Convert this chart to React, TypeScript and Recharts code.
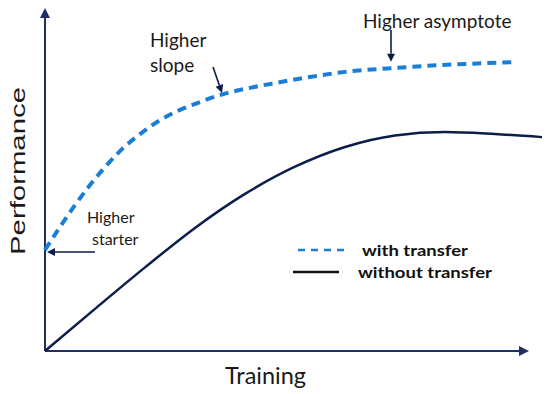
import { LineChart, Line, XAxis, YAxis, ReferenceLine } from "recharts";

// training progress (x) and performance (y), both 0..100
const withTransferX = [0, 3, 6, 9, 12, 15, 19, 23, 27, 31, 35, 41, 46, 53, 60, 69.4, 79.4, 94];
const withTransferY = [29.7, 36.5, 42.9, 48.8, 54.1, 58.8, 63.8, 67.9, 70.9, 73.2, 75.3, 77.4, 78.8, 80.6, 82.1, 83.2, 84.1, 85];
const withoutTransferX = [0, 10, 20, 30, 40, 50, 60, 70, 80, 90, 99.4];
const withoutTransferY = [0, 12.4, 24.6, 36.2, 46.2, 54.2, 60, 63.4, 64.4, 63.8, 62.9];

const withData = withTransferX.map((x, i) => ({ x, y: withTransferY[i] }));
const withoutData = withoutTransferX.map((x, i) => ({ x, y: withoutTransferY[i] }));

const AXIS = "#1f2f66";
const NAVY = "#0c1d4b";
const BLUE = "#1b7ed6";
const ANNOT = "Lato, 'Noto Sans', sans-serif";

// line with an arrowhead at the (x2, y2) end
const Arrow = (props: any) => {
  const { x1, y1, x2, y2, stroke, strokeWidth, head = 9, wing = 4.5 } = props;
  const a = Math.atan2(y2 - y1, x2 - x1);
  const bx = x2 - head * Math.cos(a);
  const by = y2 - head * Math.sin(a);
  const s = Math.sin(a);
  const c = Math.cos(a);
  const pts = `${x2},${y2} ${bx + wing * s},${by - wing * c} ${bx - wing * s},${by + wing * c}`;
  return (
    <g>
      <line x1={x1} y1={y1} x2={bx} y2={by} stroke={stroke} strokeWidth={strokeWidth} />
      <polygon points={pts} fill={stroke} />
    </g>
  );
};

export default function App() {
  return (
    <div style={{ position: "absolute", left: 0, top: 0, width: 550, height: 394 }}>
      <LineChart
        width={550}
        height={394}
        margin={{ top: 11, right: 5, bottom: 43, left: 45 }}
      >
        <XAxis type="number" dataKey="x" domain={[0, 100]} hide />
        <YAxis type="number" dataKey="y" domain={[0, 100]} hide />

        {/* axes with arrowheads */}
        <ReferenceLine
          segment={[{ x: 0, y: 0 }, { x: 96.8, y: 0 }]}
          stroke={AXIS}
          strokeWidth={2}
          ifOverflow="visible"
          shape={(p: any) => <Arrow {...p} head={10} wing={5} />}
        />
        <ReferenceLine
          segment={[{ x: 0, y: 0 }, { x: 0, y: 100.9 }]}
          stroke={AXIS}
          strokeWidth={2}
          ifOverflow="visible"
          shape={(p: any) => <Arrow {...p} head={10} wing={5} />}
        />

        <Line
          data={withoutData}
          dataKey="y"
          type="monotone"
          stroke={NAVY}
          strokeWidth={2.5}
          dot={false}
          isAnimationActive={false}
        />
        <Line
          data={withData}
          dataKey="y"
          type="monotone"
          stroke={BLUE}
          strokeWidth={4}
          strokeDasharray="9 6"
          dot={false}
          isAnimationActive={false}
        />

        {/* annotation arrows */}
        <ReferenceLine
          segment={[{ x: 33.6, y: 83.5 }, { x: 35.4, y: 75.9 }]}
          stroke={NAVY}
          strokeWidth={1.6}
          ifOverflow="visible"
          shape={(p: any) => <Arrow {...p} head={8} wing={4} />}
        />
        <ReferenceLine
          segment={[{ x: 69.2, y: 94.4 }, { x: 69.2, y: 85.1 }]}
          stroke={NAVY}
          strokeWidth={1.6}
          ifOverflow="visible"
          shape={(p: any) => <Arrow {...p} head={8} wing={4} />}
        />
        <ReferenceLine
          segment={[{ x: 10, y: 29.1 }, { x: 0.4, y: 29.1 }]}
          stroke={NAVY}
          strokeWidth={1.6}
          ifOverflow="visible"
          shape={(p: any) => <Arrow {...p} head={8} wing={4} />}
        />
      </LineChart>

      <svg
        width={550}
        height={394}
        style={{ position: "absolute", left: 0, top: 0, pointerEvents: "none" }}
      >
        <g fontFamily={ANNOT} fontSize={19} fill="#1a1a1a">
          <text x={150} y={47}>Higher</text>
          <text x={150} y={72}>slope</text>
          <text x={363} y={28}>Higher asymptote</text>
        </g>
        <g fontFamily={ANNOT} fontSize={16} fill="#1a1a1a">
          <text x={87} y={223}>Higher</text>
          <text x={92} y={245}>starter</text>
        </g>

        {/* legend */}
        <line x1={298} y1={250} x2={346} y2={250} stroke={BLUE} strokeWidth={2.5} strokeDasharray="7 6" />
        <line x1={293} y1={272} x2={339} y2={272} stroke="#111" strokeWidth={2.5} />
        <g fontFamily={ANNOT} fontSize={16} fontWeight={700} fill="#111">
          <text x={362} y={256} textLength={106} lengthAdjust="spacingAndGlyphs">with transfer</text>
          <text x={358} y={278} textLength={134} lengthAdjust="spacingAndGlyphs">without transfer</text>
        </g>

        <text x={225} y={384} fontFamily={ANNOT} fontSize={23.5} fill="#1a1a1a">
          Training
        </text>
        <text
          transform="translate(25, 255) rotate(-90)"
          x={0}
          y={0}
          fontFamily="'Liberation Sans', Arial, sans-serif"
          fontSize={20}
          textLength={168}
          lengthAdjust="spacingAndGlyphs"
          fill="#1a1a1a"
        >
          Performance
        </text>
      </svg>
    </div>
  );
}
